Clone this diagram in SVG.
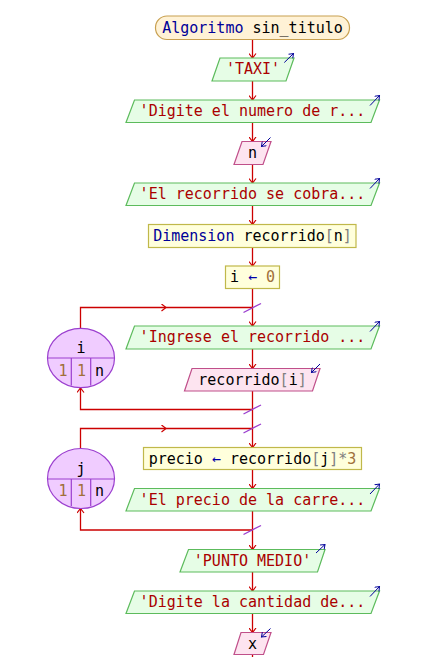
<svg xmlns="http://www.w3.org/2000/svg" width="434" height="657" viewBox="0 0 434 657">
<defs>
<style>
text{font-family:"DejaVu Sans Mono","Liberation Mono",monospace;font-size:15px;fill:#000;}
.m{text-anchor:middle;}
.kw{fill:#000099;}
.str{fill:#aa0000;}
.op{fill:#808080;}
.num{fill:#a0703a;}
.arr{fill:#0000aa;}
.flow{fill:none;stroke:#cc0000;stroke-width:1.3;}
.term{fill:#fff2d6;stroke:#c8a050;stroke-width:1.2;}
.out{fill:#e6fde6;stroke:#5cbb5c;stroke-width:1.2;}
.in{fill:#fde4f0;stroke:#c04f8a;stroke-width:1.2;}
.proc{fill:#ffffdc;stroke:#c0b84a;stroke-width:1.2;}
.loop{fill:#f0ccff;stroke:#9b3fcf;stroke-width:1.2;}
.slash{stroke:#9b3fcf;stroke-width:1.3;fill:none;}
.icon{stroke:#000099;stroke-width:1;fill:none;}
</style>
<marker id="ah" markerWidth="8" markerHeight="8" refX="5" refY="4" orient="auto" markerUnits="userSpaceOnUse">
<path d="M0.5,0.5 L5,4 L0.5,7.5" fill="none" stroke="#cc0000" stroke-width="1.2"/>
</marker>
<marker id="ih" markerWidth="7" markerHeight="7" refX="4.5" refY="3.5" orient="auto" markerUnits="userSpaceOnUse">
<path d="M0.5,0.5 L4.5,3.5 L0.5,6.5" fill="none" stroke="#000099" stroke-width="1"/>
</marker>
</defs>

<g id="connectors">
<path class="flow" d="M252.5,39.5 V58" marker-end="url(#ah)"/>
<path class="flow" d="M252.5,81 V100" marker-end="url(#ah)"/>
<path class="flow" d="M252.5,122.5 V141.5" marker-end="url(#ah)"/>
<path class="flow" d="M252.5,164.5 V183" marker-end="url(#ah)"/>
<path class="flow" d="M252.5,205.5 V224.5" marker-end="url(#ah)"/>
<path class="flow" d="M252.5,247.5 V266" marker-end="url(#ah)"/>
<path class="flow" d="M252.5,288.5 V326" marker-end="url(#ah)"/>
<path class="flow" d="M252.5,349 V368.5" marker-end="url(#ah)"/>
<path class="flow" d="M252.5,391 V447.5" marker-end="url(#ah)"/>
<path class="flow" d="M252.5,469.5 V488.5" marker-end="url(#ah)"/>
<path class="flow" d="M252.5,511 V549.5" marker-end="url(#ah)"/>
<path class="flow" d="M252.5,572 V591" marker-end="url(#ah)"/>
<path class="flow" d="M252.5,613.5 V632.5" marker-end="url(#ah)"/>
<path class="flow" d="M252.5,654.5 V657"/>
<!-- loop i -->
<path class="flow" d="M80.5,328.5 V307.5 H166" marker-end="url(#ah)"/>
<path class="flow" d="M166,307.5 H252.5"/>
<path class="flow" d="M252.5,409.5 H80.5 V388" marker-end="url(#ah)"/>
<path class="slash" d="M243.5,312.5 L261,303.5"/>
<path class="slash" d="M243.5,414 L261,405"/>
<!-- loop j -->
<path class="flow" d="M80.5,448.5 V428.5 H166" marker-end="url(#ah)"/>
<path class="flow" d="M166,428.5 H252.5"/>
<path class="flow" d="M252.5,530 H80.5 V508.5" marker-end="url(#ah)"/>
<path class="slash" d="M243.5,433 L261,424"/>
<path class="slash" d="M243.5,534.5 L261,525.5"/>
</g>

<g id="start">
<rect class="term" x="155.5" y="16" width="194" height="23.5" rx="11.5"/>
<text class="m" x="252.5" y="32.5"><tspan class="kw">Algoritmo</tspan> sin_titulo</text>
</g>

<g id="out_taxi">
<polygon class="out" points="220,58 294,58 286,81 212,81"/>
<text class="m str" x="253" y="74">'TAXI'</text>
<path class="icon" d="M284.3,62.5 L293.5,53.5" marker-end="url(#ih)"/>
</g>

<g id="out_digite1">
<polygon class="out" points="134.5,100 379.5,100 371,122.5 126,122.5"/>
<text class="m str" x="252.5" y="116">'Digite el numero de r...</text>
<path class="icon" d="M370,105.5 L379.5,95.5" marker-end="url(#ih)"/>
</g>

<g id="in_n">
<polygon class="in" points="242,141.5 271,141.5 263,164.5 234,164.5"/>
<text class="m" x="252.5" y="157.5">n</text>
<path class="icon" d="M270.5,137.5 L261.5,146.5" marker-end="url(#ih)"/>
</g>

<g id="out_recorrido">
<polygon class="out" points="134.5,183 379.5,183 371,205.5 126,205.5"/>
<text class="m str" x="252.5" y="199">'El recorrido se cobra...</text>
<path class="icon" d="M370,188.5 L379.5,178.5" marker-end="url(#ih)"/>
</g>

<g id="dim">
<rect class="proc" x="148.5" y="224.5" width="207.5" height="23"/>
<text class="m" x="252.5" y="240.5"><tspan class="kw">Dimension</tspan> recorrido<tspan class="op">[</tspan>n<tspan class="op">]</tspan></text>
</g>

<g id="assign_i">
<rect class="proc" x="225.5" y="266" width="54" height="22.5"/>
<text class="m" x="252.5" y="282">i <tspan class="arr">←</tspan> <tspan class="num">0</tspan></text>
</g>

<g id="loop_i">
<ellipse class="loop" cx="81" cy="358" rx="33.5" ry="29.7"/>
<path class="loop" d="M47.5,358 H114.5 M71.3,358 V385.5 M90.7,358 V385.5" fill="none"/>
<text class="m" x="81" y="352.5">i</text>
<text class="m num" x="63" y="375.5">1</text>
<text class="m num" x="81.5" y="375.5">1</text>
<text class="m" x="99.5" y="375.5">n</text>
</g>

<g id="out_ingrese">
<polygon class="out" points="134.5,326 379.5,326 371,349 126,349"/>
<text class="m str" x="252.5" y="342">'Ingrese el recorrido ...</text>
<path class="icon" d="M370,331.5 L379.5,321.5" marker-end="url(#ih)"/>
</g>

<g id="in_recorrido">
<polygon class="in" points="192,368.5 320,368.5 312.5,391 184.5,391"/>
<text class="m" x="252.5" y="384.5">recorrido<tspan class="op">[</tspan>i<tspan class="op">]</tspan></text>
<path class="icon" d="M320,364 L311.5,372.5" marker-end="url(#ih)"/>
</g>

<g id="loop_j">
<ellipse class="loop" cx="81" cy="478.5" rx="33.5" ry="30"/>
<path class="loop" d="M47.5,479 H114.5 M71.3,479 V506 M90.7,479 V506" fill="none"/>
<text class="m" x="81" y="473.5">j</text>
<text class="m num" x="63" y="496">1</text>
<text class="m num" x="81.5" y="496">1</text>
<text class="m" x="99.5" y="496">n</text>
</g>

<g id="precio">
<rect class="proc" x="143.5" y="447.5" width="218" height="22"/>
<text class="m" x="252.5" y="463.5">precio <tspan class="arr">←</tspan> recorrido<tspan class="op">[</tspan>j<tspan class="op">]*</tspan><tspan class="num">3</tspan></text>
</g>

<g id="out_precio">
<polygon class="out" points="134.5,488.5 379.5,488.5 371,511 126,511"/>
<text class="m str" x="252.5" y="504.5">'El precio de la carre...</text>
<path class="icon" d="M370,494 L379.5,484" marker-end="url(#ih)"/>
</g>

<g id="out_punto">
<polygon class="out" points="188.5,549.5 325,549.5 317.5,572 180,572"/>
<text class="m str" x="252.5" y="565.5">'PUNTO MEDIO'</text>
<path class="icon" d="M316,553 L325,544.5" marker-end="url(#ih)"/>
</g>

<g id="out_digite2">
<polygon class="out" points="134.5,591 379.5,591 371,613.5 126,613.5"/>
<text class="m str" x="252.5" y="607">'Digite la cantidad de...</text>
<path class="icon" d="M370,596.5 L379.5,586.5" marker-end="url(#ih)"/>
</g>

<g id="in_x">
<polygon class="in" points="241,632.5 271,632.5 263.5,654.5 234,654.5"/>
<text class="m" x="252.5" y="648.5">x</text>
<path class="icon" d="M270.5,628.5 L261.5,637" marker-end="url(#ih)"/>
</g>
</svg>
